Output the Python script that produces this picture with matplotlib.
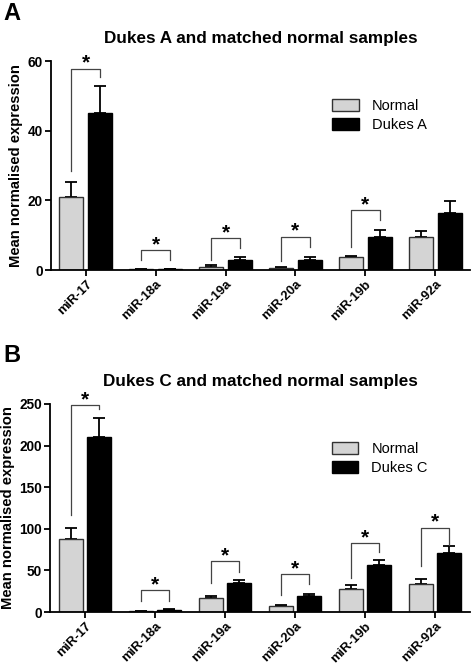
import numpy as np
import matplotlib.pyplot as plt
from matplotlib.patches import Patch

plt.rcParams['font.family'] = ['Liberation Sans', 'DejaVu Sans']

# -------------------------------
# DATA
# -------------------------------
mirs = ['miR-17', 'miR-18a', 'miR-19a', 'miR-20a', 'miR-19b', 'miR-92a']

# panel A - Dukes A
a_normal = [21.0, 0.2, 1.0, 0.7, 3.6, 9.5]
a_normal_sem = [4.2, 0.1, 0.3, 0.2, 0.5, 1.8]
a_dukes = [45.0, 0.3, 3.0, 3.0, 9.5, 16.5]
a_dukes_sem = [7.8, 0.1, 0.8, 0.7, 2.0, 3.3]
a_sig = [0, 1, 2, 3, 4]
a_br_top = [57.8, 5.7, 9.1, 9.6, 17.2]
a_br_left = [28.3, 2.9, 2.9, 2.5, 6.7]
a_br_right = [55.5, 2.9, 6.2, 6.7, 14.4]

# panel B - Dukes C
b_normal = [88.0, 1.0, 16.5, 7.0, 28.0, 34.0]
b_normal_sem = [12.5, 0.5, 3.0, 1.4, 4.5, 6.0]
b_dukes = [210.0, 2.5, 34.5, 19.5, 56.0, 71.5]
b_dukes_sem = [23.5, 1.0, 3.8, 2.0, 7.0, 8.0]
b_sig = [0, 1, 2, 3, 4, 5]
b_br_top = [249.0, 26.0, 61.4, 45.5, 82.5, 101.3]
b_br_left = [116.0, 12.8, 34.7, 20.8, 40.7, 55.8]
b_br_right = [244.0, 12.8, 48.6, 33.5, 72.6, 80.5]

grey = '#d4d4d4'
off = 0.207
w = 0.343


def panel(ax, normal, nsem, dukes, dsem, sig, top, left, right,
          ymax, step, title, label):
    x = np.arange(len(mirs))
    ax.bar(x - off, normal, w, color=grey, edgecolor='#333333', linewidth=1.0, zorder=2)
    ax.bar(x + off, dukes, w, color='black', edgecolor='black', linewidth=1.0, zorder=2)
    ax.errorbar(x - off, normal, yerr=[np.zeros(len(x)), nsem], fmt='none',
                ecolor='black', elinewidth=1.3, capsize=4.3, capthick=1.3, zorder=1)
    ax.errorbar(x + off, dukes, yerr=[np.zeros(len(x)), dsem], fmt='none',
                ecolor='black', elinewidth=1.3, capsize=4.3, capthick=1.3, zorder=1)

    # brackets + asterisks
    for i, t, l, r in zip(sig, top, left, right):
        ax.plot([i - off, i - off, i + off, i + off], [l, t, t, r],
                color='#444444', linewidth=0.9, clip_on=False)
        ax.annotate('*', (i, t), xytext=(0, -3), textcoords='offset points',
                    ha='center', va='bottom', fontsize=15, fontweight='bold',
                    annotation_clip=False)

    ax.set_xlim(-0.5, len(mirs) - 0.5)
    ax.set_ylim(0, ymax)
    ax.set_yticks(np.arange(0, ymax + 1, step))
    ax.set_xticks(x)
    ax.set_xticklabels(mirs, rotation=45, ha='right', rotation_mode='anchor')
    for lab in ax.get_xticklabels():
        lab.set_fontweight('bold')
        lab.set_fontsize(9.4)
    for lab in ax.get_yticklabels():
        lab.set_fontweight('bold')
        lab.set_fontsize(9.8)
    ax.spines['top'].set_visible(False)
    ax.spines['right'].set_visible(False)
    ax.spines['left'].set_linewidth(1.3)
    ax.spines['bottom'].set_linewidth(1.3)
    ax.tick_params(direction='out', length=4, width=1.3, pad=2)
    ax.set_ylabel('Mean normalised expression', fontsize=10.6, fontweight='bold', labelpad=3)
    ax.set_title(title, fontsize=12.3, fontweight='bold', pad=13)

    handles = [Patch(facecolor=grey, edgecolor='#333333'),
               Patch(facecolor='black', edgecolor='black')]
    ax.legend(handles, ['Normal', label], loc='upper left', bbox_to_anchor=(0.64, 0.88),
              frameon=False, fontsize=10.5, handlelength=1.8, handleheight=0.85,
              labelspacing=0.35, handletextpad=0.9)


fig = plt.figure(figsize=(4.74, 6.70), dpi=100)
ax_a = fig.add_axes([51 / 474, 1 - 270 / 670, 419 / 474, 209 / 670])
ax_b = fig.add_axes([50 / 474, 1 - 612 / 670, 420 / 474, 208 / 670])

panel(ax_a, a_normal, a_normal_sem, a_dukes, a_dukes_sem, a_sig,
      a_br_top, a_br_left, a_br_right, 60, 20,
      'Dukes A and matched normal samples', 'Dukes A')
panel(ax_b, b_normal, b_normal_sem, b_dukes, b_dukes_sem, b_sig,
      b_br_top, b_br_left, b_br_right, 250, 50,
      'Dukes C and matched normal samples', 'Dukes C')

fig.text(3 / 474, 1 - 13 / 670, 'A', fontsize=17, fontweight='bold', va='center')
fig.text(3 / 474, 1 - 355 / 670, 'B', fontsize=17, fontweight='bold', va='center')

fig.savefig('out.png', dpi=100)
